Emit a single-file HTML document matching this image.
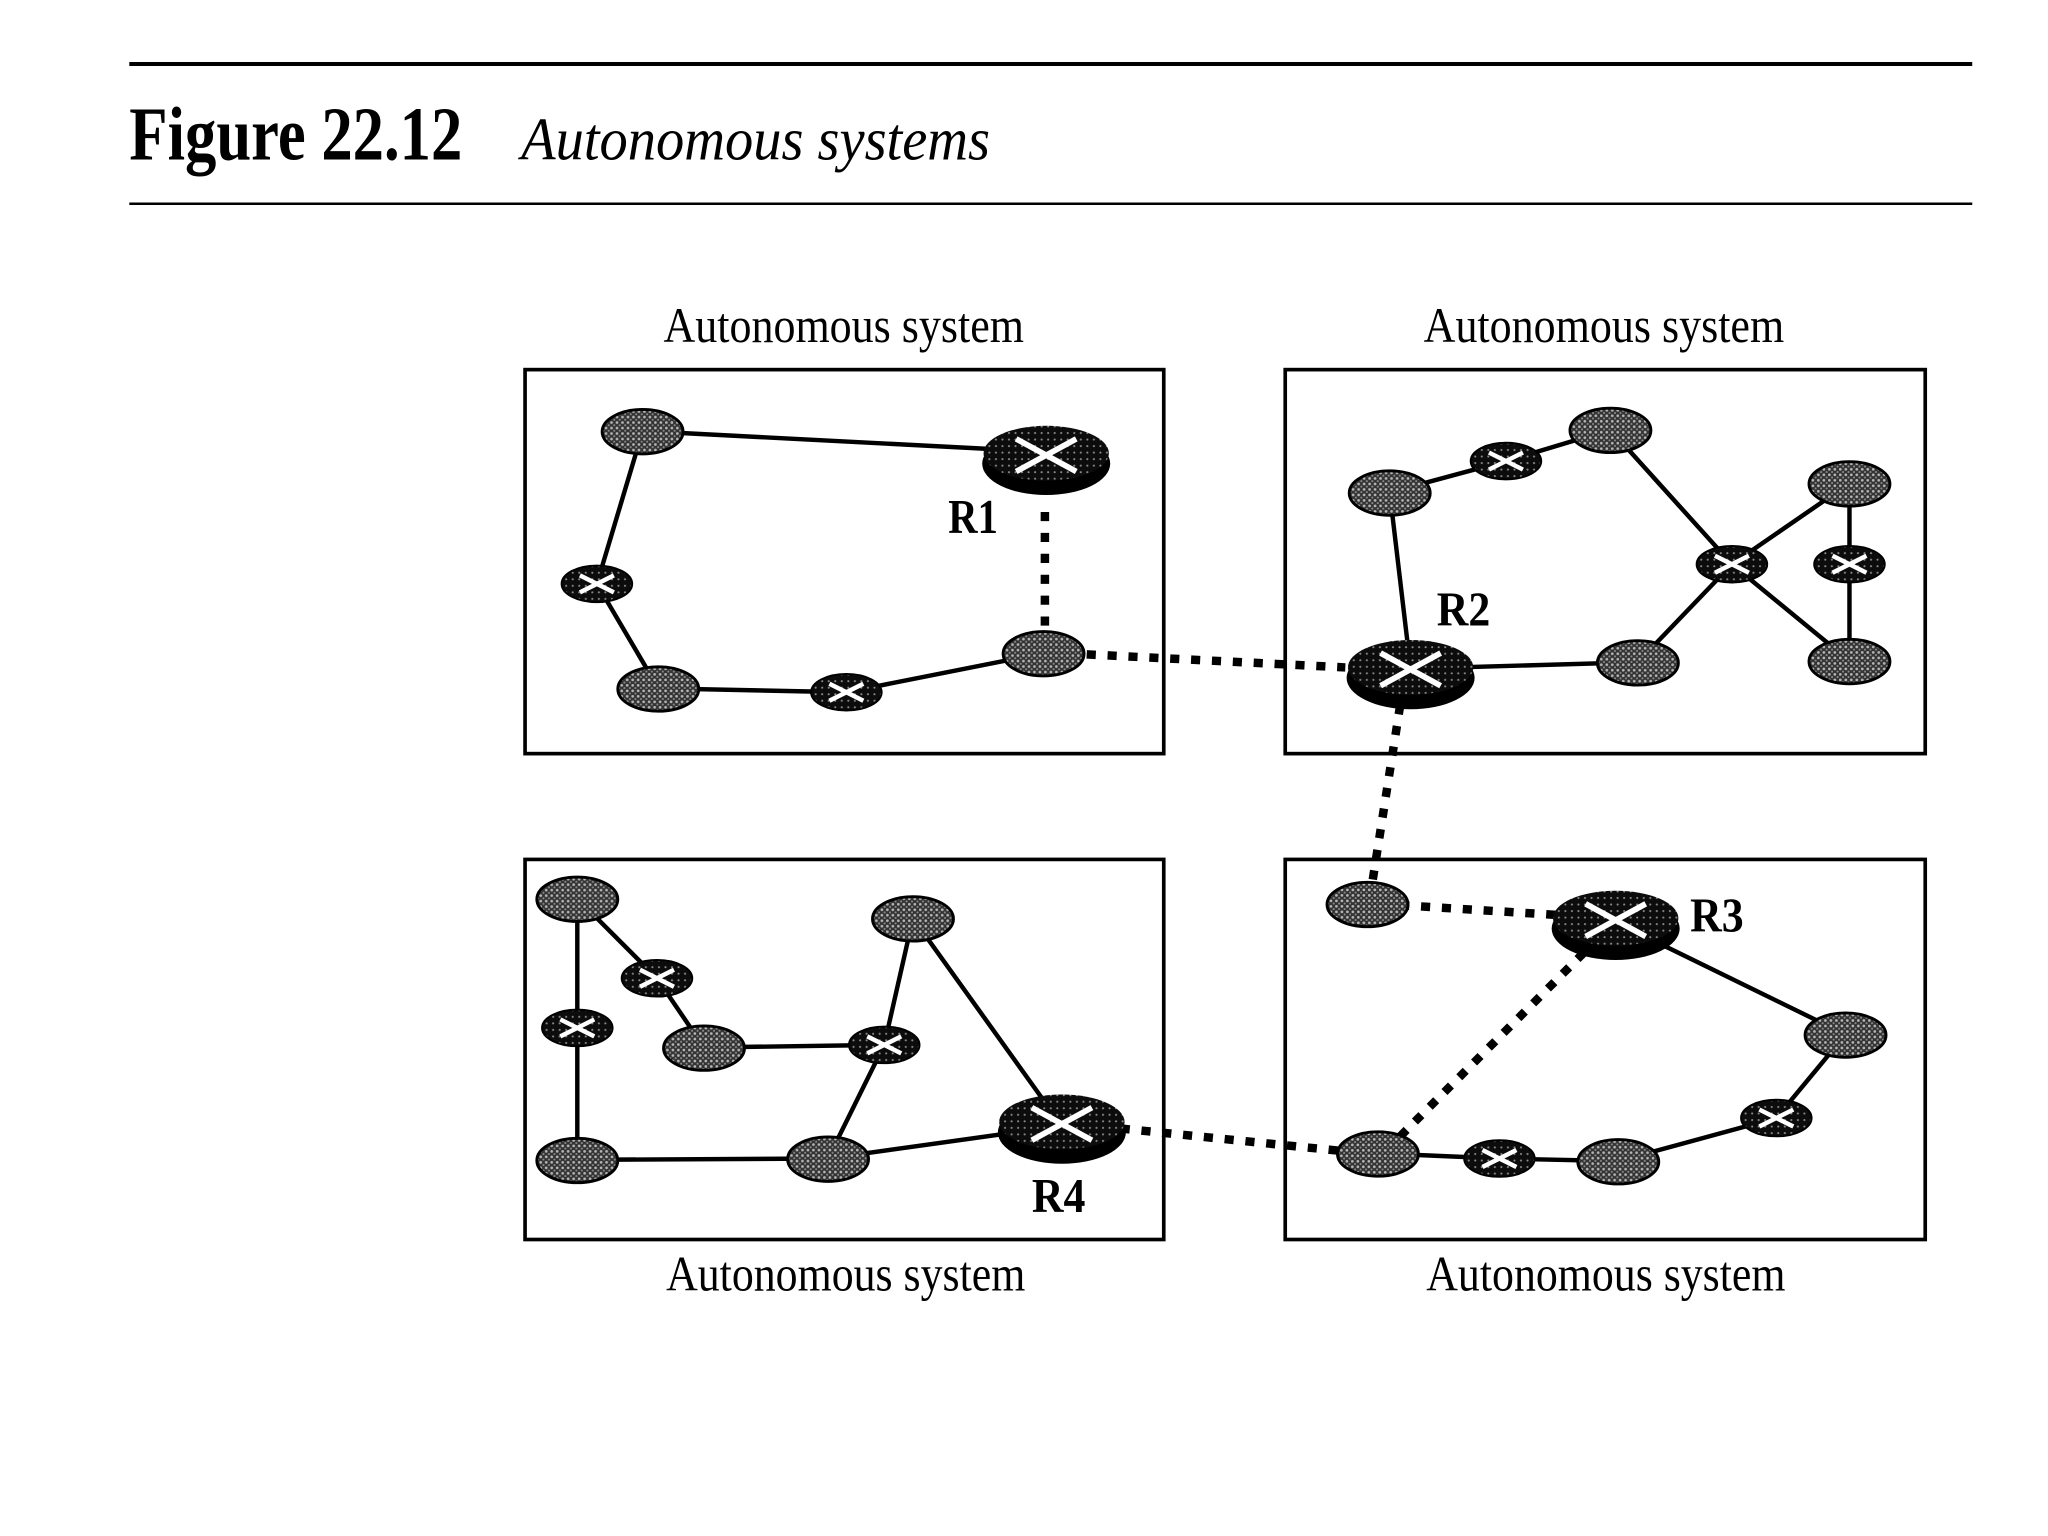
<!DOCTYPE html>
<html><head><meta charset="utf-8"><style>html,body{margin:0;padding:0;background:#fff}svg{display:block}text{font-family:"Liberation Serif",serif;fill:#000}</style></head>
<body>
<svg width="2048" height="1536" viewBox="0 0 1568 1176" xmlns="http://www.w3.org/2000/svg">
<defs>
<pattern id="st" width="4.2" height="4.2" patternUnits="userSpaceOnUse"><rect width="4.2" height="4.2" fill="#333"/><circle cx="1.4" cy="1.4" r="1.05" fill="#b5b5b5"/><circle cx="3.5" cy="3.5" r=".8" fill="#8a8a8a"/></pattern>
<pattern id="sd" width="5" height="5" patternUnits="userSpaceOnUse"><rect width="5" height="5" fill="#0c0c0c"/><circle cx="1.5" cy="1.5" r=".8" fill="#888"/></pattern>
<g id="n"><ellipse rx="31" ry="17" fill="url(#st)" stroke="#000" stroke-width="2.2"/></g>
<g id="s"><ellipse rx="27" ry="14" fill="url(#sd)" stroke="#000" stroke-width="1.5"/><path d="M-13-6.5 13 6.5M-13 6.5 13-6.5" stroke="#fff" stroke-width="3.4"/></g>
<g id="l"><ellipse cy="5" rx="49" ry="24" fill="#000"/><ellipse cy="-3" rx="48" ry="21" fill="url(#sd)"/><path d="M-23-14 23 11M-23 11 23-14" stroke="#fff" stroke-width="4.4"/></g>
</defs>
<rect width="1568" height="1176" fill="#fff"/>
<path d="M99 49H1510" stroke="#000" stroke-width="3"/>
<path d="M99 156H1510" stroke="#000" stroke-width="2"/>
<text x="99" y="122" font-size="58" font-weight="700" textLength="255" lengthAdjust="spacingAndGlyphs">Figure 22.12</text>
<text x="399" y="122" font-size="46" font-style="italic" textLength="359" lengthAdjust="spacingAndGlyphs">Autonomous systems</text>
<g font-size="38">
<text x="508" y="262" textLength="276" lengthAdjust="spacingAndGlyphs">Autonomous system</text>
<text x="1090" y="262" textLength="276" lengthAdjust="spacingAndGlyphs">Autonomous system</text>
<text x="510" y="988" textLength="275" lengthAdjust="spacingAndGlyphs">Autonomous system</text>
<text x="1092" y="988" textLength="275" lengthAdjust="spacingAndGlyphs">Autonomous system</text>
</g>
<g fill="none" stroke="#000" stroke-width="2.8">
<rect x="402" y="283" width="489" height="294"/>
<rect x="984" y="283" width="490" height="294"/>
<rect x="402" y="658" width="489" height="291"/>
<rect x="984" y="658" width="490" height="291"/>
</g>
<g stroke="#000" stroke-width="3.4" fill="none">
<path d="M492 330 801 346M492 330 457 447 504 527 648 530 799 500"/>
<path d="M1064 377 1153 353 1233 329 1326 432 1416 370V506L1326 432 1254 507 1080 512 1064 377"/>
<path d="M442 688V888L634 887 813 862 699 703 677 800 634 887M442 688 503 749 539 802 677 800"/>
<path d="M1237 706 1413 792 1360 856 1239 889 1148 887 1055 883"/>
</g>
<g stroke="#000" stroke-width="6.5" fill="none" stroke-dasharray="7 9">
<path d="M800 392V482"/>
<path d="M832 501 1030 511"/>
<path d="M1072 540 1050 680"/>
<path d="M1072 693 1200 701"/>
<path d="M1072 870 1212 730"/>
<path d="M858 864 1025 881"/>
</g>
<use href="#n" x="492" y="330.5"/><use href="#l" x="801" y="350"/><use href="#s" x="457" y="447"/><use href="#n" x="504" y="527.5"/><use href="#s" x="648" y="530"/><use href="#n" x="799" y="500.5"/>
<use href="#n" x="1064" y="377.5"/><use href="#s" x="1153" y="353"/><use href="#n" x="1233" y="329.5"/><use href="#s" x="1326" y="432"/><use href="#n" x="1416" y="370.5"/><use href="#s" x="1416" y="432"/><use href="#n" x="1416" y="506.5"/><use href="#n" x="1254" y="507.5"/><use href="#l" x="1080" y="514"/>
<use href="#n" x="442" y="688.5"/><use href="#s" x="503" y="749"/><use href="#s" x="442" y="787"/><use href="#n" x="539" y="802.5"/><use href="#s" x="677" y="800"/><use href="#n" x="699" y="703.5"/><use href="#n" x="442" y="888.5"/><use href="#n" x="634" y="887.5"/><use href="#l" x="813" y="862"/>
<use href="#n" x="1047" y="692.5"/><use href="#l" x="1237" y="706"/><use href="#n" x="1413" y="792.5"/><use href="#s" x="1360" y="856"/><use href="#n" x="1239" y="889.5"/><use href="#s" x="1148" y="887"/><use href="#n" x="1055" y="883.5"/>
<g font-size="37" font-weight="700">
<text x="726" y="408" textLength="38" lengthAdjust="spacingAndGlyphs">R1</text>
<text x="1100" y="479" textLength="41" lengthAdjust="spacingAndGlyphs">R2</text>
<text x="1294" y="713" textLength="41" lengthAdjust="spacingAndGlyphs">R3</text>
<text x="790" y="928" textLength="41" lengthAdjust="spacingAndGlyphs">R4</text>
</g>
</svg>
</body></html>
